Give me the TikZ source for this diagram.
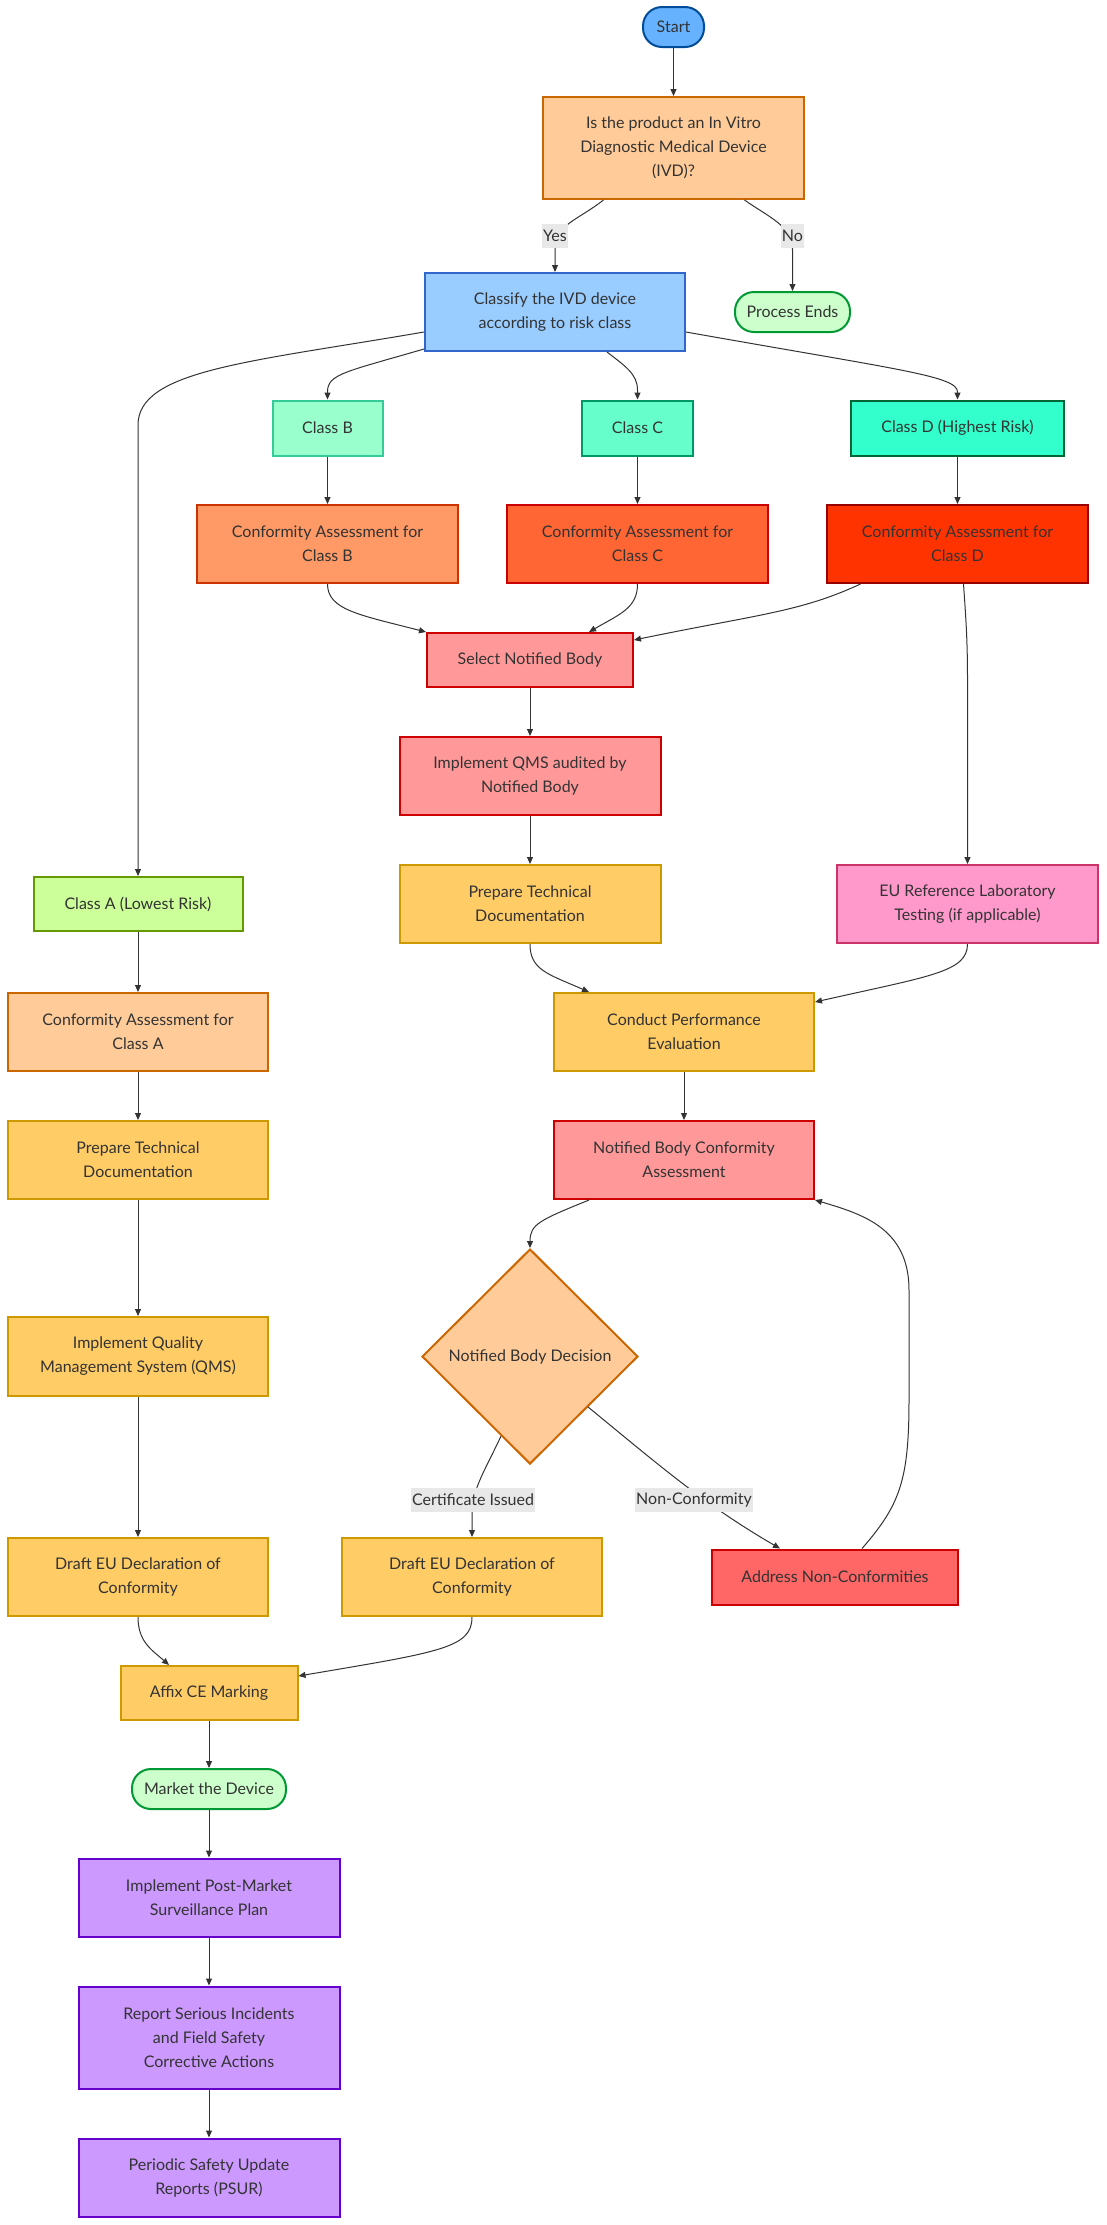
\documentclass[tikz,border=0pt]{standalone}
\usepackage{fontspec}
\setmainfont{Lato}
\usetikzlibrary{shapes.geometric,arrows.meta,calc}
\definecolor{txt}{HTML}{333333}
\definecolor{edgec}{HTML}{333333}
\definecolor{lblbg}{HTML}{E8E8E8}
\definecolor{startF}{HTML}{66B2FF}\definecolor{startD}{HTML}{004C99}
\definecolor{orF}{HTML}{FFCC99}\definecolor{orD}{HTML}{CC6600}
\definecolor{blF}{HTML}{99CCFF}\definecolor{blD}{HTML}{3366CC}
\definecolor{grF}{HTML}{CCFFCC}\definecolor{grD}{HTML}{009933}
\definecolor{cbF}{HTML}{99FFCC}\definecolor{cbD}{HTML}{33CC99}
\definecolor{ccF}{HTML}{66FFCC}\definecolor{ccD}{HTML}{009966}
\definecolor{cdF}{HTML}{33FFCC}\definecolor{cdD}{HTML}{006633}
\definecolor{caF}{HTML}{CCFF99}\definecolor{caD}{HTML}{669900}
\definecolor{abF}{HTML}{FF9966}\definecolor{abD}{HTML}{CC3300}
\definecolor{acF}{HTML}{FF6633}\definecolor{acD}{HTML}{CC0000}
\definecolor{adF}{HTML}{FF3300}\definecolor{adD}{HTML}{990000}
\definecolor{rdF}{HTML}{FF9999}\definecolor{rdD}{HTML}{CC0000}
\definecolor{ylF}{HTML}{FFCC66}\definecolor{ylD}{HTML}{CC9900}
\definecolor{pkF}{HTML}{FF99CC}\definecolor{pkD}{HTML}{CC3366}
\definecolor{ncF}{HTML}{FF6666}\definecolor{ncD}{HTML}{CC0000}
\definecolor{puF}{HTML}{CC99FF}\definecolor{puD}{HTML}{6600CC}
\tikzset{
  box/.style={draw, line width=2pt, text=txt, align=center, inner sep=0pt, rectangle},
  pill/.style={box, rounded corners=19pt},
  conn/.style={draw=edgec, line width=1pt, -{Triangle[length=7pt,width=6pt]}},
  elabel/.style={fill=lblbg, text=txt, inner xsep=1pt, inner ysep=0pt, minimum height=24pt},
}
\begin{document}
\begin{tikzpicture}[x=1pt,y=-1pt,font=\fontsize{16}{24}\selectfont]
\useasboundingbox[fill=white] (0,0) rectangle (1106,2225);

% nodes
\node[pill, fill=startF, draw=startD, minimum width=61pt, minimum height=40pt] (start) at (673.5,27) {Start};
\node[box, fill=orF, draw=orD, minimum width=261pt, minimum height=102pt] (ivd) at (673.5,148) {Is the product an In Vitro\\Diagnostic Medical Device\\(IVD)?};
\node[box, fill=blF, draw=blD, minimum width=260pt, minimum height=78pt] (classify) at (555,312) {Classify the IVD device\\according to risk class};
\node[pill, fill=grF, draw=grD, minimum width=115pt, minimum height=40pt] (procend) at (792.5,312) {Process Ends};
\node[box, fill=cbF, draw=cbD, minimum width=110pt, minimum height=55pt] (classB) at (327.5,428) {Class B};
\node[box, fill=ccF, draw=ccD, minimum width=111pt, minimum height=55pt] (classC) at (637.5,428) {Class C};
\node[box, fill=cdF, draw=cdD, minimum width=213pt, minimum height=55pt] (classD) at (957.5,428) {Class D (Highest Risk)};
\node[box, fill=abF, draw=abD, minimum width=261pt, minimum height=78pt] (caB) at (327.5,544) {Conformity Assessment for\\Class B};
\node[box, fill=acF, draw=acD, minimum width=261pt, minimum height=78pt] (caC) at (637.5,544) {Conformity Assessment for\\Class C};
\node[box, fill=adF, draw=adD, minimum width=261pt, minimum height=78pt] (caD) at (957.5,544) {Conformity Assessment for\\Class D};
\node[box, fill=rdF, draw=rdD, minimum width=206pt, minimum height=54pt] (selnb) at (530,660) {Select Notified Body};
\node[box, fill=rdF, draw=rdD, minimum width=261pt, minimum height=78pt] (implnb) at (530,776) {Implement QMS audited by\\Notified Body};
\node[box, fill=ylF, draw=ylD, minimum width=261pt, minimum height=78pt] (prepmid) at (530,904) {Prepare Technical\\Documentation};
\node[box, fill=pkF, draw=pkD, minimum width=261pt, minimum height=78pt] (euref) at (967.5,904) {EU Reference Laboratory\\Testing (if applicable)};
\node[box, fill=caF, draw=caD, minimum width=209pt, minimum height=54pt] (classA) at (138,904) {Class A (Lowest Risk)};
\node[box, fill=orF, draw=orD, minimum width=260pt, minimum height=78pt] (caA) at (138,1032) {Conformity Assessment for\\Class A};
\node[box, fill=ylF, draw=ylD, minimum width=260pt, minimum height=78pt] (conduct) at (684,1032) {Conduct Performance\\Evaluation};
\node[box, fill=ylF, draw=ylD, minimum width=260pt, minimum height=78pt] (prepleft) at (138,1160) {Prepare Technical\\Documentation};
\node[box, fill=rdF, draw=rdD, minimum width=260pt, minimum height=78pt] (nbca) at (684,1160) {Notified Body Conformity\\Assessment};
\node[diamond, draw=orD, fill=orF, line width=2pt, text=txt, inner sep=0pt, minimum width=216pt, minimum height=215pt] (decision) at (530,1356.5) {Notified Body Decision};
\node[box, fill=ylF, draw=ylD, minimum width=260pt, minimum height=79pt] (implleft) at (138,1356.5) {Implement Quality\\Management System (QMS)};
\node[box, fill=ylF, draw=ylD, minimum width=260pt, minimum height=78pt] (draftleft) at (138,1577) {Draft EU Declaration of\\Conformity};
\node[box, fill=ylF, draw=ylD, minimum width=260pt, minimum height=78pt] (draftmid) at (472,1577) {Draft EU Declaration of\\Conformity};
\node[box, fill=ncF, draw=ncD, minimum width=246pt, minimum height=55pt] (addressnc) at (835,1577) {Address Non-Conformities};
\node[box, fill=ylF, draw=ylD, minimum width=177pt, minimum height=54pt] (affix) at (209,1693) {Affix CE Marking};
\node[pill, fill=grF, draw=grD, minimum width=154pt, minimum height=40pt] (market) at (209,1789) {Market the Device};
\node[box, fill=puF, draw=puD, minimum width=261pt, minimum height=78pt] (pms) at (209,1897.5) {Implement Post-Market\\Surveillance Plan};
\node[box, fill=puF, draw=puD, minimum width=261pt, minimum height=102pt] (report) at (209,2037.5) {Report Serious Incidents\\and Field Safety\\Corrective Actions};
\node[box, fill=puF, draw=puD, minimum width=261pt, minimum height=78pt] (psur) at (209,2177.5) {Periodic Safety Update\\Reports (PSUR)};

% connectors
\draw[conn] (start) -- (ivd);
\draw[conn] ($(ivd.south)+(-70,0)$) .. controls (578,220) and (555,225) .. (555,248) -- (classify.north);
\draw[conn] ($(ivd.south)+(71,0)$) .. controls (770,218) and (792.5,226) .. (792.5,250) -- (procend.north);
\draw[conn] ($(classify.west)+(0,20)$) .. controls (250,362) and (138,370) .. (138,425) -- (classA.north);
\draw[conn] ($(classify.west)+(0,37)$) .. controls (345,372) and (327.5,374) .. (327.5,392) -- (classB.north);
\draw[conn] ($(classify.south)+(52,0)$) .. controls (625,366) and (637.5,374) .. (637.5,390) -- (classC.north);
\draw[conn] ($(classify.east)+(0,20)$) .. controls (900,370) and (957.5,376) .. (957.5,392) -- (classD.north);
\draw[conn] (classB) -- (caB);
\draw[conn] (classC) -- (caC);
\draw[conn] (classD) -- (caD);
\draw[conn] (caB.south) .. controls (327.5,610) and (360,615) .. (selnb.north west);
\draw[conn] (caC.south) .. controls (637.5,608) and (620,614) .. ($(selnb.north)+(59,0)$);
\draw[conn] ($(caD.south)+(-97,0)$) .. controls (800,612) and (760,614) .. ($(selnb.east)+(0,-20)$);
\draw[conn] ($(caD.south)+(6,0)$) .. controls (966,620) and (967.5,640) .. (967.5,680) -- (euref.north);
\draw[conn] (selnb) -- (implnb);
\draw[conn] (implnb) -- (prepmid);
\draw[conn] (prepmid.south) .. controls (530,970) and (548,974) .. ($(conduct.north)+(-95,0)$);
\draw[conn] (euref.south) .. controls (967.5,972) and (930,976) .. ($(conduct.east)+(0,-30)$);
\draw[conn] (conduct) -- (nbca);
\draw[conn] ($(nbca.south)+(-95,0)$) .. controls (540,1220) and (530,1224) .. (decision.north);
\draw[conn] (decision.-110) .. controls (486,1468) and (472,1490) .. (472,1512) -- (draftmid.north);
\draw[conn] (decision.-41) .. controls (660,1466) and (705,1505) .. ($(addressnc.north)+(-55,0)$);
\draw[conn] ($(addressnc.north)+(27,0)$) .. controls (900,1505) and (909,1480) .. (909,1400) -- (909,1290) .. controls (909,1228) and (862,1214) .. (nbca.south east);
\draw[conn] (classA) -- (caA);
\draw[conn] (caA) -- (prepleft);
\draw[conn] (prepleft) -- (implleft);
\draw[conn] (implleft) -- (draftleft);
\draw[conn] (draftleft.south) .. controls (138,1642) and (152,1650) .. ($(affix.north)+(-40,0)$);
\draw[conn] (draftmid.south) .. controls (472,1648) and (440,1652) .. ($(affix.east)+(0,-17)$);
\draw[conn] (affix) -- (market);
\draw[conn] (market) -- (pms);
\draw[conn] (pms) -- (report);
\draw[conn] (report) -- (psur);

% edge labels
\node[elabel] (lyes) at (555,236) {Yes};
\node[elabel] (lno) at (792.5,236) {No};
\node[elabel] (lcert) at (473,1500) {Certificate Issued};
\node[elabel] (lnc) at (694,1500) {Non-Conformity};
\end{tikzpicture}
\end{document}
